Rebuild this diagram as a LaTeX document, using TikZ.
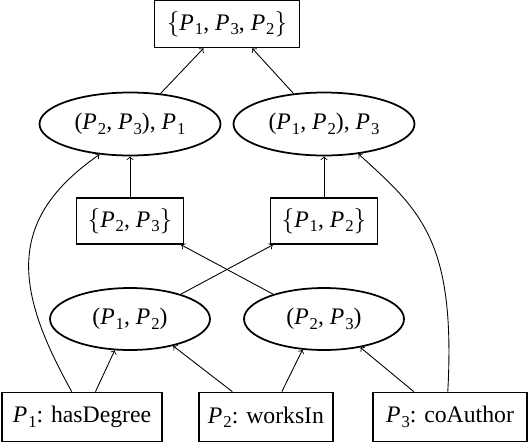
\documentclass[tikz,border=0pt]{standalone}
\usepackage{fontspec}
\setmainfont{Liberation Serif}
\usetikzlibrary{shapes.geometric}
\newcommand{\pv}[1]{\textit{P}\kern0.04em\raisebox{-0.4ex}{\fontsize{9.5}{10}\selectfont #1}}
\begin{document}
\begin{tikzpicture}[x=0.02cm,y=-0.02cm,font=\fontsize{13.5}{16}\selectfont,
    box/.style={draw,line width=1pt,rectangle,inner sep=0pt},
    oval/.style={draw,line width=1pt,ellipse,inner sep=0pt},
    link/.style={->,line width=0.5pt}]
  \useasboundingbox (0,0) rectangle (530,443);
  % nodes
  \node[box,minimum width=2.9cm,minimum height=0.94cm] (top) at (227,24) {$\{$\pv1, \pv3, \pv2$\}$};
  \node[oval,minimum width=3.62cm,minimum height=1.26cm] (eL) at (130,124) {(\pv2, \pv3), \pv1};
  \node[oval,minimum width=3.62cm,minimum height=1.26cm] (eR) at (324,124) {(\pv1, \pv2), \pv3};
  \node[box,minimum width=2.14cm,minimum height=0.92cm] (b23) at (130,221) {$\{$\pv2, \pv3$\}$};
  \node[box,minimum width=2.14cm,minimum height=0.92cm] (b12) at (324,221) {$\{$\pv1, \pv2$\}$};
  \node[oval,minimum width=3.2cm,minimum height=1.24cm] (e12) at (130,319) {(\pv1, \pv2)};
  \node[oval,minimum width=3.2cm,minimum height=1.24cm] (e23) at (324,319) {(\pv2, \pv3)};
  \node[box,minimum width=3.2cm,minimum height=0.98cm] (p1) at (82,417) {\pv1: hasDegree};
  \node[box,minimum width=2.68cm,minimum height=0.98cm] (p2) at (266,417) {\pv2: worksIn};
  \node[box,minimum width=3.08cm,minimum height=0.98cm] (p3) at (450,417) {\pv3: coAuthor};
  % edges
  \draw[link] (eL.45) -- (top.-134);
  \draw[link] (eR.135) -- (top.-44);
  \draw[link] (b23.north) -- (eL.south);
  \draw[link] (b12.north) -- (eR.south);
  \draw[link] (e12.26) -- (b12.-155);
  \draw[link] (e23.154) -- (b23.-25);
  \draw[link] (p1.62) -- (e12.-116);
  \draw[link] (p2.143) -- (e12.-32);
  \draw[link] (p2.58) -- (e23.-125);
  \draw[link] (p3.145) -- (e23.-38);
  \draw[link] (p1.112) .. controls (15,290) and (5,220) .. (eL.-135);
  \draw[link] (p3.95) .. controls (456,240) and (420,210) .. (eR.-41);
\end{tikzpicture}
\end{document}
